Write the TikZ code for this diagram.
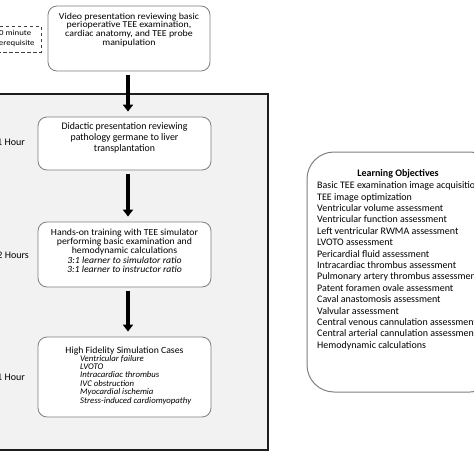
\documentclass[tikz,border=0pt]{standalone}
\usepackage{fontspec}
\usepackage{graphicx}
\setmainfont{Carlito}
\usetikzlibrary{arrows.meta}
\definecolor{boxgray}{HTML}{7F7F7F}
\definecolor{panelfill}{HTML}{F2F2F2}
\definecolor{paneldraw}{HTML}{1E1E1E}
\newcommand{\sqc}[3]{\scalebox{1}[0.87]{\fontsize{#1}{#2}\selectfont\begin{tabular}{@{}c@{}}#3\end{tabular}}}
% fit a centred / left block of lines to a given width and total height (pt)
\newcommand{\fitc}[4]{\resizebox*{#1pt}{#2pt}{\fontsize{10}{#4}\selectfont\begin{tabular}{@{}c@{}}#3\end{tabular}}}
\newcommand{\fitl}[4]{\resizebox*{#1pt}{#2pt}{\fontsize{10}{#4}\selectfont\begin{tabular}{@{}l@{}}#3\end{tabular}}}
\begin{document}
\begin{tikzpicture}[x=1pt,y=-1pt,
  box/.style={draw=boxgray, line width=0.8pt, rounded corners=9pt, fill=white, inner sep=0pt, minimum width=173pt},
  txt/.style={inner sep=0pt},
  lbl/.style={inner sep=0pt, anchor=east, font=\fontsize{10}{11}\selectfont},
  arr/.style={-{Triangle[width=10pt,length=7pt]}, line width=4.5pt, shorten >=5pt, shorten <=4pt},
  prereq/.style={draw=black!75, line width=0.8pt, dash pattern=on 3.5pt off 2.5pt, inner sep=0pt, minimum width=56pt, minimum height=26pt},
  objbox/.style={draw=boxgray, line width=1pt, rounded corners=27pt, fill=white, inner sep=0pt, minimum width=190pt, minimum height=240pt}]
\useasboundingbox (0,0) rectangle (474,474);
\clip (0,0) rectangle (474,474);
\fill[white] (0,0) rectangle (474,474);

% panel
\draw[fill=panelfill, draw=paneldraw, line width=1.4pt] (-10,94) rectangle (268,450);

% prerequisite box
\node[prereq] (pre) at (13,39) {};
\node[txt] (pretxt) at (13,38.5) {\sqc{8.8}{11.6}{30 minute\\prerequisite}};

% top box
\node[box, minimum width=162pt, minimum height=65pt] (vid) at (129,38.5) {};
\node[txt] (vidtxt) at (129,30.5) {\fitc{140}{35.6}{Video presentation reviewing basic\\perioperative TEE examination,\\cardiac anatomy, and TEE probe\\manipulation}{9.5}};

% didactic
\node[box, minimum height=53pt] (did) at (124.5,143.5) {};
\node[txt] (didtxt) at (124.5,138.5) {\fitc{126}{33}{Didactic presentation reviewing\\pathology germane to liver\\transplantation}{11}};

% hands-on
\node[box, minimum height=65pt] (hands) at (124.5,254.5) {};
\node[txt] (handstxt) at (124.5,252) {\fitc{147}{46}{Hands-on training with TEE simulator\\performing basic examination and\\hemodynamic calculations\\\textit{3:1 learner to simulator ratio}\\\textit{3:1 learner to instructor ratio}}{9.6}};

% high fidelity
\node[box, minimum height=80pt] (hf) at (124.5,377) {};
\node[txt] (hftitle) at (124.5,351.5) {\fitc{118}{9.5}{High Fidelity Simulation Cases}{10}};
\node[txt, anchor=west] (hflist) at (80,380.5) {\fitl{111}{50.4}{\itshape Ventricular failure\\\itshape LVOTO\\\itshape Intracardiac thrombus\\\itshape IVC obstruction\\\itshape Myocardial ischemia\\\itshape Stress-induced cardiomyopathy}{9.4}};

% arrows
\draw[arr] ([xshift=-1pt]vid.south) -- ([xshift=3.5pt]did.north);
\draw[arr] ([xshift=3.5pt]did.south) -- ([xshift=3.5pt]hands.north);
\draw[arr] ([xshift=3.5pt]hands.south) -- ([xshift=3.5pt]hf.north);

% hour labels
\node[lbl] (h1) at (25,142) {1 Hour};
\node[lbl] (h2) at (29,255) {2 Hours};
\node[lbl] (h3) at (25,377) {1 Hour};

% objectives
\node[objbox] (obj) at (402,272) {};
\node[inner sep=0pt, font=\fontsize{10}{11.4}\selectfont\bfseries] (objtitle) at (398,174) {Learning Objectives};
\node[inner sep=0pt, align=left, anchor=north west, font=\fontsize{10}{11.4}\selectfont] (objlist) at (317,181.5) {Basic TEE examination image acquisition\\TEE image optimization\\Ventricular volume assessment\\Ventricular function assessment\\Left ventricular RWMA assessment\\LVOTO assessment\\Pericardial fluid assessment\\Intracardiac thrombus assessment\\Pulmonary artery thrombus assessment\\Patent foramen ovale assessment\\Caval anastomosis assessment\\Valvular assessment\\Central venous cannulation assessment\\Central arterial cannulation assessment\\Hemodynamic calculations};
\end{tikzpicture}
\end{document}
